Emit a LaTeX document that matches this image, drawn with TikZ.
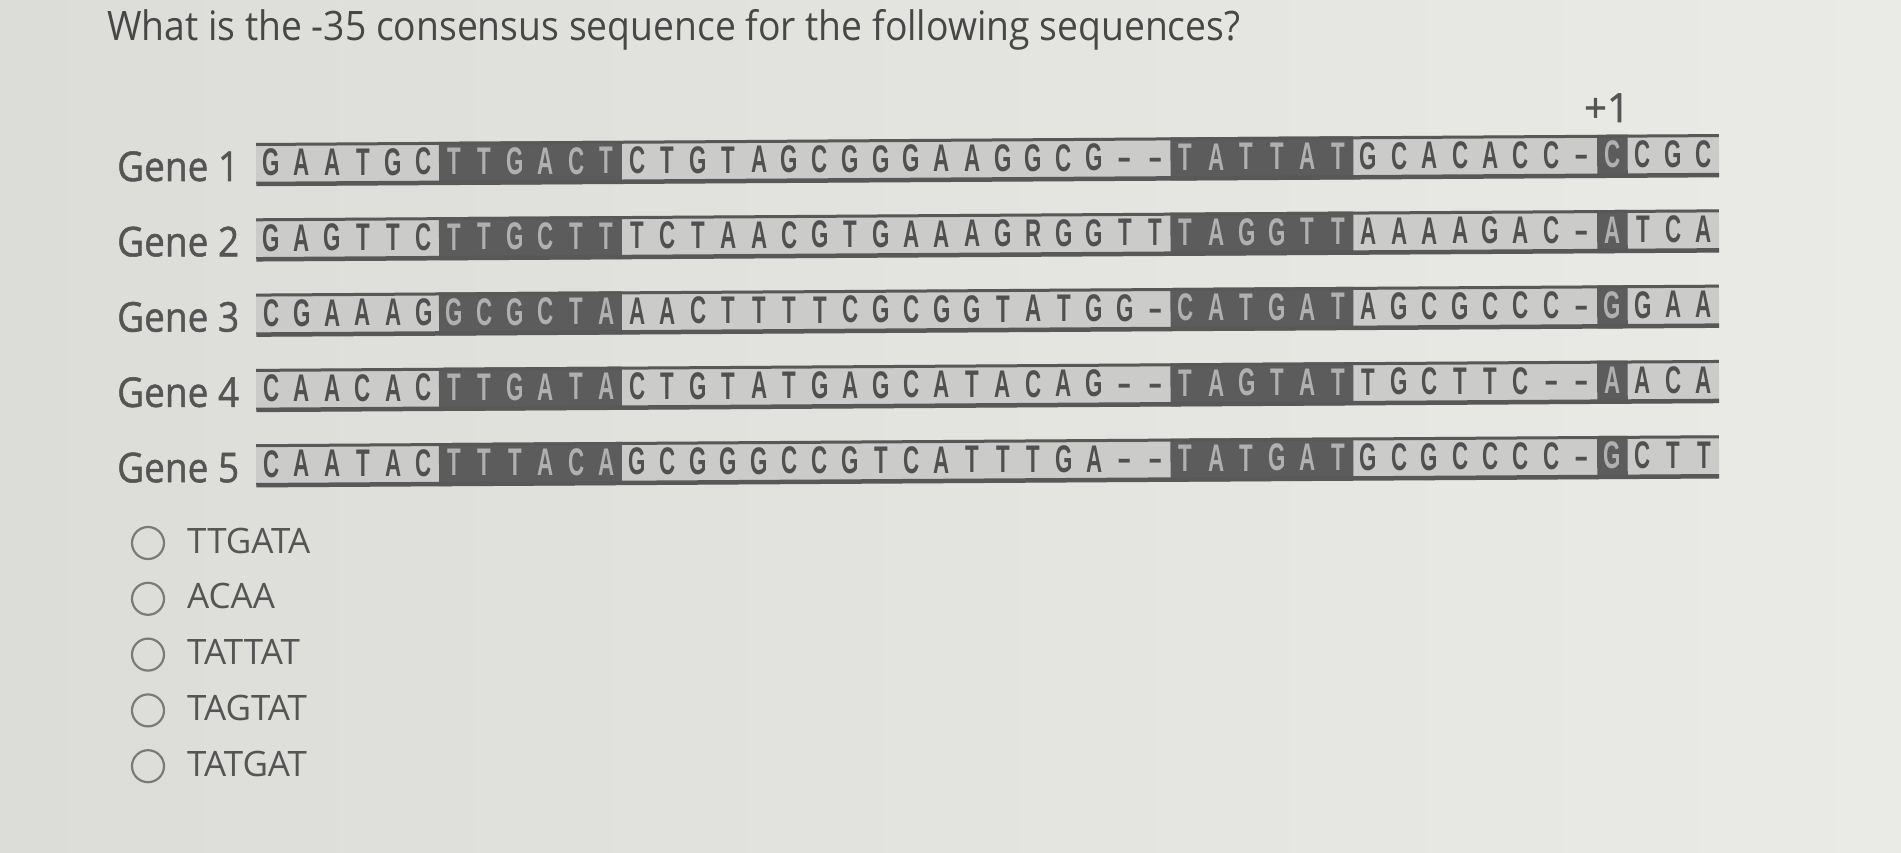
\documentclass[tikz,border=0pt]{standalone}
\usepackage{fontspec}
\usepackage{graphicx}
\setmainfont{Open Sans}
\newfontfamily\seqfont{Liberation Sans}
\newfontfamily\labfont[FakeBold=1.3]{Open Sans}
\definecolor{bgL}{HTML}{DCDCD9}
\definecolor{bgR}{HTML}{EAEAE7}
\definecolor{titlecol}{HTML}{474747}
\definecolor{labcol}{HTML}{555555}
\definecolor{lightfill}{HTML}{CBCBCA}
\definecolor{darkfill}{HTML}{5C5C5C}
\definecolor{litlight}{HTML}{505050}
\definecolor{litdark}{HTML}{B0B0B0}
\definecolor{rowline}{HTML}{585858}
\definecolor{circcol}{HTML}{7A7A7A}
\definecolor{optcol}{HTML}{555555}
\tikzset{
  seqlet/.style={anchor=base, inner sep=0pt, font=\seqfont\bfseries\fontsize{38.5}{40}\selectfont},
  genelab/.style={anchor=base west, inner sep=0pt, text=labcol, font=\labfont\fontsize{41}{44}\selectfont},
  optcirc/.style={circle, draw=circcol, line width=2.2pt, minimum size=32pt, inner sep=0pt},
  opttext/.style={anchor=base west, inner sep=0pt, text=optcol, font=\fontsize{35}{40}\selectfont},
}
\begin{document}
\begin{tikzpicture}[x=1pt,y=-1pt]
\useasboundingbox (0,0) rectangle (1901,853);
\fill[left color=bgL, right color=bgR] (0,0) rectangle (1901,853);
\node[anchor=base west, inner sep=0pt, text=titlecol, font=\fontsize{40.6}{48}\selectfont] (title) at (107,41)
  {\resizebox{1133pt}{\height}{What is the -35 consensus sequence for the following sequences?}};
\node[anchor=base, inner sep=0pt, text=labcol, font=\labfont\fontsize{40}{44}\selectfont] (plus) at (1607,122) {+1};
\foreach \seq [count=\r from 0] in {
 {G,A,A,T,G,C,T,T,G,A,C,T,C,T,G,T,A,G,C,G,G,G,A,A,G,G,C,G,–,–,T,A,T,T,A,T,G,C,A,C,A,C,C,–,C,C,G,C},
 {G,A,G,T,T,C,T,T,G,C,T,T,T,C,T,A,A,C,G,T,G,A,A,A,G,R,G,G,T,T,T,A,G,G,T,T,A,A,A,A,G,A,C,–,A,T,C,A},
 {C,G,A,A,A,G,G,C,G,C,T,A,A,A,C,T,T,T,T,C,G,C,G,G,T,A,T,G,G,–,C,A,T,G,A,T,A,G,C,G,C,C,C,–,G,G,A,A},
 {C,A,A,C,A,C,T,T,G,A,T,A,C,T,G,T,A,T,G,A,G,C,A,T,A,C,A,G,–,–,T,A,G,T,A,T,T,G,C,T,T,C,–,–,A,A,C,A},
 {C,A,A,T,A,C,T,T,T,A,C,A,G,C,G,G,G,C,C,G,T,C,A,T,T,T,G,A,–,–,T,A,T,G,A,T,G,C,G,C,C,C,C,–,G,C,T,T}} {
  \pgfmathsetmacro\rtop{143+75.3*\r}
  \pgfmathtruncatemacro\gn{\r+1}
  \node[genelab] (lab\r) at (117,{181+75.3*\r}) {\resizebox{122pt}{\height}{Gene \gn}};
  \begin{scope}[rotate around={0.35:(255,\rtop)}]
  \fill[lightfill] (256,\rtop) rectangle (1719,\rtop+43);
  \foreach \a/\b in {6/12,30/36,44/45}
    \fill[darkfill] ({256+30.48*\a},\rtop) rectangle ({256+30.48*\b},\rtop+43);
  \draw[rowline, line width=3pt] (256,\rtop+1.5) -- (1719,\rtop+1.5);
  \draw[rowline, line width=4.5pt] (256,\rtop+41) -- (1719,\rtop+41);
  \foreach \ch [count=\k from 0] in \seq {
    \pgfmathtruncatemacro\isdark{or(or(and(\k>5,\k<12),and(\k>29,\k<36)),\k==44)}
    \ifnum\isdark=1 \def\lc{litdark}\else\def\lc{litlight}\fi
    \node[seqlet, text=\lc] (g\r c\k) at ({256+30.48*(\k+0.5)},\rtop+33) {\scalebox{0.58}[1]{\ch}};
  }
  \end{scope}
}
\foreach \t [count=\i from 0] in {TTGATA,ACAA,TATTAT,TAGTAT,TATGAT} {
  \node[optcirc] (oc\i) at (148,{543+55.8*\i}) {};
  \node[opttext] (ot\i) at (187,{553+55.8*\i}) {\t};
}
\end{tikzpicture}
\end{document}
